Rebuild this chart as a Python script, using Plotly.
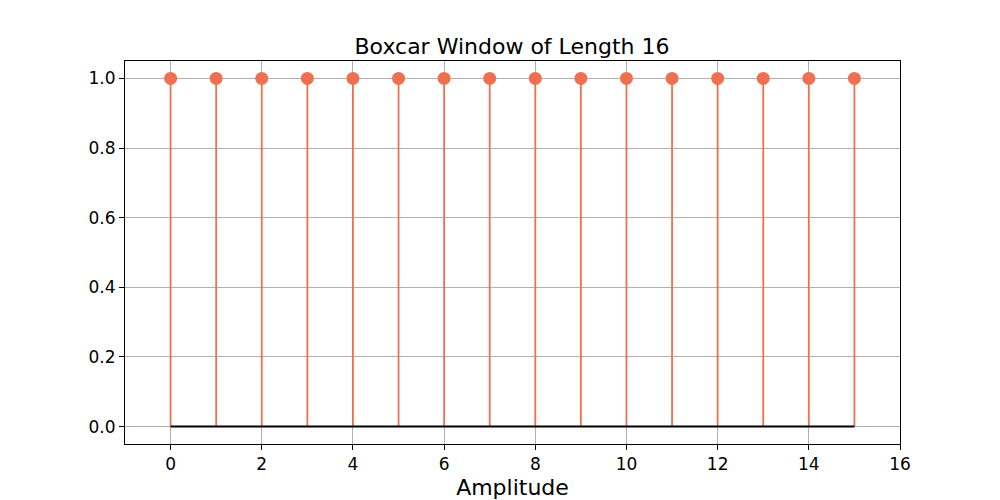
import plotly.graph_objects as go

# Boxcar window samples
n = list(range(16))
window = [1.0] * 16

stem_color = "#EE7050"

# stems as one line trace, broken with None between samples
stem_x, stem_y = [], []
for xi, yi in zip(n, window):
    stem_x += [xi, xi, None]
    stem_y += [0, yi, None]

fig = go.Figure()
fig.add_trace(go.Scatter(x=stem_x, y=stem_y, mode="lines",
                         line=dict(color=stem_color, width=1.8),
                         hoverinfo="skip", showlegend=False))
fig.add_trace(go.Scatter(x=[n[0], n[-1]], y=[0, 0], mode="lines",
                         line=dict(color="black", width=2),
                         showlegend=False))
fig.add_trace(go.Scatter(x=n, y=window, mode="markers",
                         marker=dict(color=stem_color, size=13),
                         showlegend=False))

axis_style = dict(showline=True, linecolor="black", linewidth=1, mirror=True,
                  ticks="outside", ticklen=5, tickcolor="black",
                  showgrid=True, gridcolor="#b0b0b0", gridwidth=1,
                  zeroline=False, tickfont=dict(size=17, color="black"))

fig.update_layout(
    width=1000, height=500,
    margin=dict(l=117, r=108, t=53, b=51),
    paper_bgcolor="white", plot_bgcolor="white",
    font=dict(family="DejaVu Sans", color="black"),
    title=dict(text="Boxcar Window of Length 16", x=0.504, xanchor="center",
               y=0.924, yanchor="middle", font=dict(size=22)),
)
fig.update_xaxes(range=[-1, 16], tickvals=[0, 2, 4, 6, 8, 10, 12, 14, 16],
                 title=dict(text="Amplitude", font=dict(size=22), standoff=6),
                 **axis_style)
fig.update_yaxes(range=[-0.05, 1.05], tickvals=[0, 0.2, 0.4, 0.6, 0.8, 1.0],
                 tickformat=".1f", **axis_style)

fig.write_html("out.html")
